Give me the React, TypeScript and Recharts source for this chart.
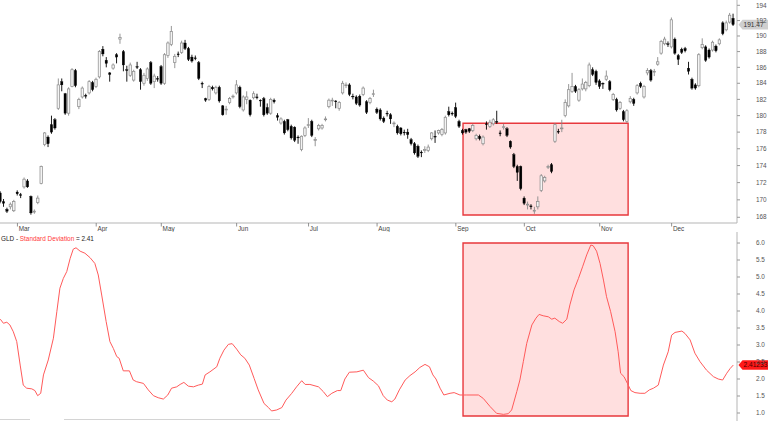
import React from 'react';
import { ComposedChart, Bar, Line, XAxis, YAxis, ReferenceArea, ReferenceLine } from 'recharts';

// daily GLD candles, Feb 22 -> Dec 28 (index = trading day)
const opens = [
  170.8, 169.8, 168.9, 169.2, 168.75, 170.9, 170.6, 171.5, 172.2, 170.4,
  168.6, 169.7, 171.9, 176.5, 177.4, 178.9, 179.5, 180.9, 184.2, 182.7,
  180.3, 183.6, 185.6, 181.1, 182.3, 182.5, 182.8, 184.1, 183.6, 184.8,
  188.3, 186.9, 185.3, 185.9, 187.6, 189.6, 188.0, 185.7, 185.0, 184.4,
  186.1, 185.7, 184.0, 184.6, 186.6, 184.2, 184.6, 186.1, 184.0, 187.5,
  188.9, 186.6, 187.7, 187.9, 189.1, 188.4, 187.3, 187.2, 186.6, 184.0,
  182.1, 182.0, 183.5, 182.8, 183.5, 181.2, 180.7, 181.6, 182.3, 182.8,
  183.5, 180.7, 182.0, 181.9, 182.2, 182.3, 181.9, 182.1, 181.0, 180.3,
  181.9, 180.0, 179.1, 179.3, 179.5, 178.7, 178.6, 177.4, 175.9, 177.6,
  178.8, 179.3, 177.0, 178.4, 178.5, 179.5, 181.1, 181.8, 181.8, 180.9,
  182.8, 183.7, 183.8, 182.4, 182.3, 182.4, 182.6, 181.7, 181.6, 182.6,
  180.8, 180.7, 179.7, 180.3, 180.1, 179.0, 178.7, 178.5, 178.0, 178.0,
  177.1, 176.6, 176.3, 175.6, 175.8, 175.8, 177.2, 177.5, 177.9, 177.7,
  177.9, 180.5, 180.3, 181.0, 179.3, 178.2, 178.3, 178.4, 178.2, 177.2,
  177.5, 176.6, 179.0, 178.7, 179.0, 179.3, 177.9, 178.6, 178.4, 176.9,
  175.3, 173.9, 173.9, 170.2, 169.4, 169.3, 168.7, 169.2, 171.1, 172.2,
  173.8, 174.1, 176.9, 178.1, 178.4, 180.0, 181.2, 183.0, 183.6, 181.9,
  183.3, 183.3, 183.7, 185.7, 185.5, 184.3, 184.0, 184.5, 184.2, 182.0,
  182.0, 180.9, 180.5, 179.3, 181.7, 182.0, 182.8, 184.0, 182.3, 185.3,
  185.6, 185.4, 186.4, 187.8, 189.0, 189.0, 188.6, 189.6, 187.5, 188.3,
  188.4, 185.9, 184.5, 183.8, 183.7, 188.5, 188.6, 188.2, 188.2, 188.7,
  189.0, 191.7, 190.8, 191.8, 192.3,
];
const highs = [
  171.0, 170.1, 169.1, 169.7, 170.0, 171.1, 170.8, 172.6, 172.4, 170.5,
  168.9, 170.5, 174.0, 178.0, 177.6, 180.0, 179.7, 184.6, 184.6, 182.8,
  183.5, 185.9, 185.8, 182.2, 183.6, 182.7, 184.4, 184.3, 184.7, 188.2,
  188.7, 187.3, 185.4, 186.5, 187.8, 190.3, 188.2, 186.2, 186.6, 185.7,
  186.7, 185.9, 185.3, 186.0, 186.8, 185.2, 184.9, 186.3, 187.8, 189.3,
  191.3, 187.7, 188.0, 189.4, 189.5, 188.6, 187.6, 187.5, 186.8, 184.2,
  182.2, 183.8, 183.7, 183.7, 183.7, 181.3, 181.2, 182.3, 182.6, 184.4,
  183.7, 182.5, 183.0, 182.0, 183.0, 182.7, 182.0, 182.3, 181.5, 182.2,
  182.1, 180.3, 179.8, 179.5, 179.6, 178.9, 178.7, 177.6, 177.6, 178.7,
  179.7, 179.5, 177.4, 179.0, 179.0, 179.9, 182.1, 182.2, 181.9, 181.8,
  184.3, 184.1, 184.0, 182.7, 182.5, 182.6, 183.6, 181.9, 182.3, 183.2,
  181.0, 180.9, 179.9, 180.6, 180.3, 179.3, 178.9, 178.6, 178.3, 178.4,
  177.3, 176.8, 176.5, 175.8, 176.3, 176.5, 178.0, 178.2, 178.3, 178.5,
  180.0, 181.1, 180.5, 181.6, 179.5, 178.4, 178.4, 178.5, 179.0, 177.8,
  177.7, 177.6, 179.3, 179.5, 179.7, 180.6, 178.2, 179.0, 178.6, 177.0,
  175.5, 174.1, 174.0, 170.4, 169.8, 169.5, 169.2, 170.4, 173.0, 172.8,
  174.1, 174.3, 179.1, 178.4, 179.5, 182.0, 183.9, 185.3, 183.8, 183.4,
  184.6, 184.3, 186.6, 186.0, 185.7, 184.5, 184.1, 185.6, 184.4, 182.8,
  182.2, 181.8, 180.7, 180.8, 182.4, 182.2, 183.9, 184.2, 183.8, 185.9,
  185.8, 185.8, 187.3, 189.5, 189.9, 189.3, 192.4, 189.8, 187.7, 188.5,
  188.6, 186.7, 184.7, 184.0, 187.8, 189.7, 188.8, 188.4, 189.4, 188.9,
  189.7, 191.9, 192.0, 193.0, 192.9,
];
const lows = [
  169.6, 169.2, 168.5, 168.9, 168.6, 170.5, 170.2, 171.3, 171.4, 168.3,
  168.4, 169.5, 171.8, 176.3, 176.2, 177.8, 178.3, 180.7, 183.0, 180.1,
  180.0, 183.5, 183.5, 180.8, 182.1, 182.1, 182.6, 183.0, 183.4, 184.6,
  187.4, 186.0, 184.2, 185.7, 186.5, 189.0, 185.5, 184.2, 184.8, 184.2,
  185.8, 183.2, 183.7, 184.3, 183.8, 183.4, 184.2, 183.8, 183.8, 187.2,
  188.7, 185.9, 187.3, 187.7, 188.2, 186.8, 186.6, 186.9, 184.4, 183.4,
  181.7, 181.8, 183.1, 182.6, 181.6, 180.0, 180.1, 181.4, 182.1, 182.6,
  180.9, 180.5, 181.4, 179.9, 182.0, 182.0, 181.1, 179.9, 180.1, 180.1,
  181.5, 179.4, 178.9, 177.7, 178.1, 177.1, 176.8, 176.6, 175.7, 177.4,
  178.5, 177.4, 176.3, 178.2, 178.3, 179.3, 180.9, 181.2, 180.9, 180.6,
  182.6, 183.4, 182.4, 182.0, 181.3, 181.1, 182.4, 180.2, 181.4, 182.3,
  180.2, 179.4, 179.1, 179.9, 179.0, 178.6, 177.7, 177.6, 177.6, 177.2,
  176.4, 175.3, 174.9, 175.0, 175.5, 175.6, 177.0, 176.7, 177.7, 177.5,
  177.7, 179.9, 180.0, 179.7, 178.5, 177.7, 177.8, 177.9, 178.0, 177.0,
  177.0, 176.4, 178.3, 178.5, 178.8, 179.0, 177.5, 178.3, 177.4, 176.0,
  173.7, 172.2, 171.1, 169.4, 168.9, 168.9, 168.4, 168.9, 170.9, 172.0,
  173.6, 173.1, 176.7, 177.8, 178.0, 179.8, 181.0, 182.8, 182.8, 181.7,
  183.1, 183.0, 183.5, 184.9, 183.8, 183.3, 183.3, 184.3, 183.0, 181.8,
  180.5, 180.7, 179.3, 179.1, 181.5, 181.2, 182.6, 183.4, 182.1, 185.0,
  184.2, 184.9, 186.2, 187.6, 188.8, 188.6, 188.4, 187.6, 186.3, 187.7,
  187.9, 185.1, 183.2, 183.2, 183.5, 188.3, 186.7, 187.1, 188.0, 187.9,
  188.8, 190.1, 190.6, 191.6, 191.3,
];
const closes = [
  169.8, 169.6, 168.7, 169.5, 169.8, 170.7, 170.5, 172.4, 171.5, 168.5,
  168.7, 170.2, 173.9, 177.9, 176.6, 178.0, 178.5, 183.8, 183.8, 180.3,
  183.3, 185.7, 183.7, 182.0, 183.4, 182.4, 184.2, 183.2, 184.5, 188.0,
  187.7, 186.5, 185.1, 186.3, 187.3, 189.8, 186.3, 185.6, 186.3, 185.5,
  186.0, 184.2, 185.0, 185.8, 184.0, 184.9, 184.5, 184.0, 187.6, 189.1,
  190.6, 187.4, 187.6, 189.1, 188.4, 187.0, 186.8, 187.1, 184.6, 183.9,
  181.9, 183.6, 183.3, 183.5, 181.8, 180.1, 180.8, 182.1, 182.4, 183.8,
  181.1, 182.3, 182.3, 180.1, 182.7, 182.2, 181.85, 180.1, 180.3, 182.0,
  181.7, 179.8, 179.6, 177.9, 178.3, 177.3, 177.0, 177.3, 177.5, 178.5,
  178.9, 177.6, 177.1, 178.8, 178.8, 179.6, 181.9, 181.9, 181.7, 181.6,
  184.0, 183.8, 182.6, 182.3, 181.5, 181.3, 183.4, 180.4, 182.1, 182.7,
  180.4, 179.6, 179.3, 180.2, 179.6, 179.1, 177.9, 177.8, 177.9, 177.7,
  176.6, 175.5, 175.1, 175.5, 175.9, 176.2, 177.9, 177.4, 178.2, 178.3,
  179.8, 180.1, 180.2, 179.9, 178.7, 177.9, 178.0, 178.1, 178.8, 177.6,
  177.2, 177.4, 178.9, 179.2, 179.5, 179.2, 177.8, 178.65, 177.6, 176.2,
  173.9, 173.2, 171.3, 169.6, 169.5, 169.2, 168.8, 169.8, 172.8, 172.6,
  173.9, 173.3, 178.9, 178.0, 178.5, 181.6, 183.2, 183.6, 183.0, 183.2,
  183.9, 184.1, 186.3, 185.1, 184.1, 183.6, 183.9, 184.9, 183.2, 182.6,
  180.7, 181.6, 179.5, 180.6, 182.1, 181.5, 183.7, 183.6, 183.6, 185.6,
  184.4, 185.5, 186.7, 189.3, 189.6, 188.9, 192.1, 187.8, 187.0, 187.9,
  188.1, 185.5, 183.4, 183.4, 187.6, 188.9, 186.9, 187.3, 189.2, 188.1,
  189.5, 190.3, 191.7, 192.7, 191.47,
];

const monthTicks = [5, 28, 47, 69, 90, 110, 133, 153, 175, 196];
const monthLabels = ['Mar', 'Apr', 'May', 'Jun', 'Jul', 'Aug', 'Sep', 'Oct', 'Nov', 'Dec'];
const priceTicks = [168, 170, 172, 174, 176, 178, 180, 182, 184, 186, 188, 190, 192, 194];
const sdTicks = [1, 1.5, 2, 2.5, 3, 3.5, 4, 4.5, 5, 5.5, 6];

// standard deviation line, read at its turning points
const sdDays = [
  0, 0.9, 1.9, 2.8, 3.8, 4.8, 5.8, 6.7, 7.7, 9.2, 10.1, 10.9, 11.8, 12.6, 14.0, 15.5, 16.5, 17.4, 18.4, 19.4,
  20.4, 21.3, 22.1, 23.3, 24.7, 26.2, 27.6, 28.6, 29.6, 30.9, 32.0, 33.0, 34.0, 34.7, 35.9, 37.7, 38.8, 39.8, 41.8, 43.2,
  44.7, 46.1, 47.6, 48.9, 50.0, 51.5, 52.5, 53.6, 54.9, 56.4, 57.8, 59.0, 59.8, 61.2, 63.2, 64.1, 65.3, 66.6, 67.7, 69.0,
  70.2, 71.4, 72.7, 74.1, 75.3, 77.0, 78.3, 79.2, 80.7, 82.2, 83.4, 85.1, 86.5, 88.0, 89.0, 90.4, 92.9, 94.3, 95.5, 96.8,
  98.4, 99.4, 100.6, 101.9, 104.1, 106.0, 107.5, 108.9, 110.4, 111.8, 113.0, 114.3, 115.2, 116.5, 118.2, 119.6, 121.1, 122.5, 124.0, 125.3,
  126.3, 127.2, 128.4, 129.5, 131.3, 132.5, 134.2, 136.2, 139.6, 141.0, 143.0, 144.9, 146.9, 148.3, 149.3, 150.8, 151.7, 152.7, 153.7, 155.2,
  156.4, 157.3, 158.5, 160.0, 161.0, 161.9, 163.2, 164.2, 165.4, 166.3, 167.5, 168.8, 170.0, 171.2, 172.4, 173.1, 174.1, 175.1, 176.1, 177.0,
  178.2, 179.5, 180.4, 181.1, 182.1, 183.1, 184.1, 185.3, 186.8, 188.2, 189.5, 190.7, 192.1, 193.6, 195.0, 196.0, 197.0, 199.0, 199.9, 201.4,
  202.8, 204.3, 206.2, 208.2, 209.6, 210.9, 212.1, 213.1, 214.0,
];
const sdValues = [
  3.76, 3.64, 3.67, 3.59, 3.39, 3.1, 2.41, 1.82, 1.73, 1.71, 1.66, 1.51, 1.58, 2.12, 2.56, 3.2, 3.98, 4.67, 4.96, 5.16,
  5.55, 5.82, 5.86, 5.76, 5.7, 5.57, 5.4, 5.06, 4.47, 3.69, 3.1, 2.9, 2.66, 2.61, 2.24, 2.24, 1.97, 1.92, 1.87, 1.68,
  1.51, 1.45, 1.41, 1.53, 1.73, 1.77, 1.84, 1.9, 1.79, 1.77, 1.82, 1.85, 2.12, 2.21, 2.36, 2.61, 2.85, 3.02, 3.04, 2.88,
  2.71, 2.61, 2.41, 2.02, 1.68, 1.28, 1.16, 1.06, 1.09, 1.16, 1.38, 1.58, 1.77, 1.95, 1.84, 1.84, 1.77, 1.63, 1.48, 1.58,
  1.66, 1.66, 2.0, 2.2, 2.21, 2.26, 2.04, 1.94, 1.8, 1.51, 1.38, 1.33, 1.41, 1.68, 1.97, 2.1, 2.21, 2.34, 2.43, 2.36,
  2.12, 2.0, 1.73, 1.53, 1.58, 1.6, 1.53, 1.53, 1.53, 1.43, 1.19, 0.99, 0.96, 0.98, 1.09, 1.63, 1.97, 2.51, 3.05, 3.59,
  3.79, 3.9, 3.86, 3.83, 3.76, 3.79, 3.69, 3.64, 3.76, 4.18, 4.62, 4.96, 5.3, 5.65, 5.94, 5.92, 5.76, 5.4, 4.91, 4.42,
  3.98, 3.39, 2.8, 2.17, 2.07, 1.87, 1.66, 1.6, 1.58, 1.58, 1.68, 1.73, 1.82, 2.41, 2.8, 3.29, 3.37, 3.41, 3.34, 3.15,
  2.76, 2.51, 2.26, 2.07, 2.0, 1.97, 2.17, 2.31, 2.41,
];

const lastClose = 191.47;
const lastSd = 2.41233;
const highlightDays = [135.1, 183.3];
const highlightPrice = [168.26, 179.07];
const highlightSd = [0.91, 6.0];

const candles = opens.map((open, i) => ({
  day: i,
  open,
  high: highs[i],
  low: lows[i],
  close: closes[i],
  range: [lows[i], highs[i]],
}));
const sdPoints = sdDays.map((day, i) => ({ day, sd: sdValues[i] }));

const FONT = '"Liberation Sans", Arial, sans-serif';
const X_DOMAIN: [number, number] = [-0.09, 215.09];

const Candle = (props: any) => {
  const { x, y, width, height, payload } = props;
  if (!payload || height == null) return null;
  const { open, close, high, low } = payload;
  const cx = x + width / 2;
  const lh = Math.log(high);
  const ll = Math.log(low);
  const toY = (v: number) => y + (height * (lh - Math.log(v))) / (lh - ll);
  const up = close >= open;
  const top = toY(Math.max(open, close));
  const bot = toY(Math.min(open, close));
  const bh = Math.max(bot - top, 0.8);
  const col = up ? '#8a8a8a' : '#000';
  return (
    <g>
      <line x1={cx} x2={cx} y1={y} y2={y + height} stroke={col} strokeWidth={0.9} />
      <rect
        x={cx - 1.2}
        y={top}
        width={2.4}
        height={bh}
        fill={up ? '#f4f4f4' : '#000'}
        stroke={col}
        strokeWidth={up ? 0.7 : 0.3}
      />
    </g>
  );
};

const MonthTick = (props: any) => {
  const { x, y, payload } = props;
  const idx = monthTicks.indexOf(payload.value);
  return (
    <g>
      <line x1={x} x2={x} y1={y} y2={y + 3.5} stroke="#777" strokeWidth={0.8} />
      <text x={x + 1.3} y={y + 7.6} fontSize={6.4} fill="#444" fontFamily={FONT}>
        {monthLabels[idx]}
      </text>
    </g>
  );
};

const AxisTick = (props: any) => {
  const { x, y, payload, decimals } = props;
  return (
    <text x={x + 16} y={y + 2.2} fontSize={6.4} fill="#555" fontFamily={FONT}>
      {Number(payload.value).toFixed(decimals)}
    </text>
  );
};

const ValueTag = (props: any) => {
  const { viewBox, text, fill, color } = props;
  if (!viewBox) return null;
  const x0 = viewBox.x + viewBox.width + 1.5;
  const y = viewBox.y;
  return (
    <g>
      <polygon
        points={`${x0},${y} ${x0 + 4},${y - 4.8} 768,${y - 4.8} 768,${y + 4.8} ${x0 + 4},${y + 4.8}`}
        fill={fill}
      />
      <text x={x0 + 5} y={y + 2.3} fontSize={6.6} fill={color} fontFamily={FONT}>
        {text}
      </text>
    </g>
  );
};

export default function App() {
  return (
    <div
      style={{
        position: 'absolute',
        left: 0,
        top: 0,
        width: 768,
        height: 421,
        background: '#fff',
        overflow: 'hidden',
        fontFamily: FONT,
      }}
    >
      <ComposedChart width={768} height={232} data={candles} margin={{ top: 0, right: 0, bottom: 0, left: 0 }}>
        <XAxis
          dataKey="day"
          type="number"
          domain={X_DOMAIN}
          allowDataOverflow
          ticks={monthTicks}
          interval={0}
          height={9}
          tickSize={0}
          tickMargin={0}
          tick={<MonthTick />}
          axisLine={{ stroke: '#b5b5b5' }}
        />
        <YAxis
          orientation="right"
          scale="log"
          domain={[167.35, 194.7]}
          allowDataOverflow
          ticks={priceTicks}
          interval={0}
          width={31}
          tickSize={3}
          tickMargin={0}
          tickLine={{ stroke: '#999' }}
          axisLine={{ stroke: '#b5b5b5' }}
          tick={<AxisTick decimals={0} />}
        />
        <ReferenceArea
          x1={highlightDays[0]}
          x2={highlightDays[1]}
          y1={highlightPrice[0]}
          y2={highlightPrice[1]}
          fill="#ffdcdc"
          fillOpacity={0.9}
          stroke="#e8383d"
          strokeWidth={1.4}
        />
        <Bar dataKey="range" barSize={3} shape={<Candle />} isAnimationActive={false} />
        <ReferenceLine
          y={lastClose}
          stroke="none"
          label={<ValueTag text={lastClose.toFixed(2)} fill="#cfcfcf" color="#333" />}
        />
      </ComposedChart>
      <div style={{ position: 'relative' }}>
        <ComposedChart width={768} height={189} margin={{ top: 0, right: 0, bottom: 0, left: 0 }}>
          <XAxis
            dataKey="day"
            type="number"
            orientation="top"
            domain={X_DOMAIN}
            allowDataOverflow
            height={0}
            tick={false}
            tickLine={false}
            axisLine={{ stroke: '#b5b5b5' }}
          />
          <YAxis
            orientation="right"
            domain={[0.765, 6.324]}
            allowDataOverflow
            ticks={sdTicks}
            interval={0}
            width={31}
            tickSize={3}
            tickMargin={0}
            tickLine={{ stroke: '#999' }}
            axisLine={{ stroke: '#b5b5b5' }}
            tick={<AxisTick decimals={1} />}
          />
          <ReferenceArea
            x1={highlightDays[0]}
            x2={highlightDays[1]}
            y1={highlightSd[0]}
            y2={highlightSd[1]}
            fill="#ffdcdc"
            fillOpacity={0.9}
            stroke="#e8383d"
            strokeWidth={1.4}
          />
          <Line
            data={sdPoints}
            dataKey="sd"
            type="linear"
            stroke="#ff5a5a"
            strokeWidth={1}
            dot={false}
            isAnimationActive={false}
          />
          <ReferenceLine
            y={lastSd}
            stroke="none"
            label={<ValueTag text={String(lastSd)} fill="#ff1a1a" color="#4a0000" />}
          />
        </ComposedChart>
        <div
          style={{
            position: 'absolute',
            left: 1,
            top: 3,
            fontSize: 6.4,
            lineHeight: '8px',
            color: '#222',
            whiteSpace: 'nowrap',
          }}
        >
          GLD - <span style={{ color: '#ff3a3a' }}>Standard Deviation</span> = 2.41
        </div>
        {/* faint scroll strip along the bottom edge */}
        <div style={{ position: 'absolute', left: 0, top: 187, width: 30, height: 1, background: '#d4d4d4' }} />
        <div style={{ position: 'absolute', left: 64, top: 187, width: 216, height: 1, background: '#d4d4d4' }} />
      </div>
    </div>
  );
}
